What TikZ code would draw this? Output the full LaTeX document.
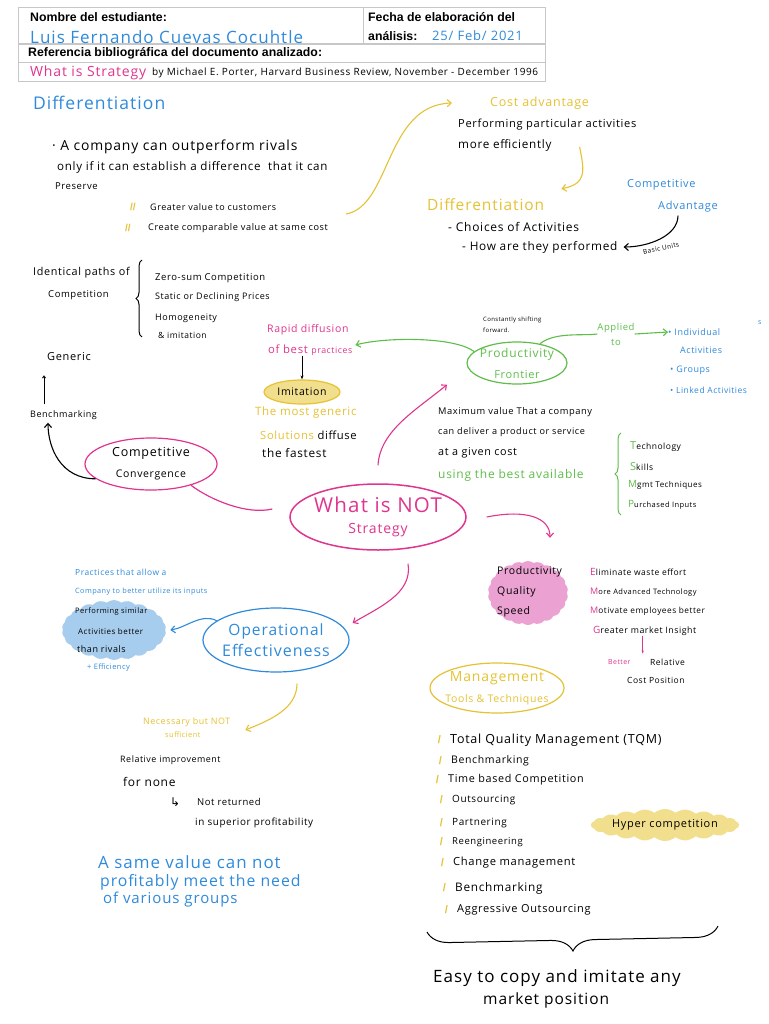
\documentclass[tikz,border=0pt]{standalone}
\usepackage{fontspec}
\setmainfont{Liberation Sans}
\newfontfamily\hand[LetterSpace=6]{Open Sans}
\newfontfamily\symb{DejaVu Sans}
\usetikzlibrary{shapes.geometric,shapes.symbols,decorations.pathreplacing,arrows.meta}
\definecolor{mpink}{HTML}{E0358E}
\definecolor{mblue}{HTML}{2F8ADB}
\definecolor{myellow}{HTML}{E5C234}
\definecolor{mgreen}{HTML}{5FBE4A}
\definecolor{lblue}{HTML}{A7CDEE}
\definecolor{lpink}{HTML}{EBA2D2}
\definecolor{lyellow}{HTML}{F2DF8E}
\newcommand\hsz[1]{\fontsize{#1}{20}\selectfont}
\tikzset{
  txt/.style={anchor=west,inner sep=0pt,font=\hand\hsz{#1}},
  hd/.style={anchor=west,inner sep=0pt,font=\bfseries\fontsize{12.3}{14}\selectfont},
  ell/.style={ellipse,draw=#1,line width=1.2pt,inner sep=0pt},
  inside/.style 2 args={label={[align=center,inner sep=0pt,text=#1,font=\hand\fontsize{10}{21}\selectfont]center:#2}},
  blob/.style={cloud,cloud puffs=22,cloud puff arc=80,cloud ignores aspect,fill=#1,draw=none,inner sep=0pt},
  ticked/.style={label={[font=\bfseries\hsz{11},text=myellow,inner sep=0pt,xshift=-9pt]left:/}},
  link/.style={line width=1.1pt,-{Straight Barb[length=4pt,width=7pt]}},
  brc/.style={decorate,decoration={brace,amplitude=#1},line width=1pt},
}
\begin{document}
\begin{tikzpicture}[x=1pt,y=-1pt]
\useasboundingbox[fill=white] (0,0) rectangle (768,1024);

% header
\draw[black!22,line width=0.8pt] (18,7) rectangle (545,43) (363,7) -- (363,43)
  (18,44) rectangle (545,62) (18,62) rectangle (545,81);
\node[hd] (nombre) at (30,17) {Nombre del estudiante:};
\node[txt=17,text=mblue] (alumno) at (30,37) {Luis Fernando Cuevas Cocuhtle};
\node[hd] (fecha) at (368,17) {Fecha de elaboración del};
\node[hd] (analisis) at (368,36) {análisis:};
\node[txt=13,text=mblue] (dia) at (432,36) {25/ Feb/ 2021};
\node[hd] (referencia) at (28,53) {Referencia bibliográfica del documento analizado:};
\node[txt=14,text=mpink] (titulo) at (30,73) {What is Strategy};
\node[txt=10] (autor) at (152,73) {by Michael E. Porter, Harvard Business Review, November - December 1996};

% differentiation block
\node[txt=17.5,text=mblue] (diffA) at (33,103) {Differentiation};
\node[txt=13.9] (comp1) at (52,147) {· A company can outperform rivals};
\node[txt=11.6] (comp2) at (57,167) {only if it can establish a difference \ that it can};
\node[txt=9.5] (comp3) at (55,186) {Preserve};
\node[txt=10,text=myellow,font=\bfseries] (sl1) at (130,207) {//};
\node[txt=9] (greater) at (150,207) {Greater value to customers};
\node[txt=10,text=myellow,font=\bfseries] (sl2) at (125,228) {//};
\node[txt=9.2] (create) at (148,228) {Create comparable value at same cost};

\node[txt=12.5,text=myellow] (cost) at (490,103) {Cost advantage};
\node[txt=11.1] (perf1) at (458,125) {Performing particular activities};
\node[txt=11.7] (perf2) at (458,145) {more efficiently};
\node[txt=15.5,text=myellow] (diffB) at (427,205) {Differentiation};
\node[txt=12] (choice) at (448,227) {- Choices of Activities};
\node[txt=11.8] (how) at (462,247) {- How are they performed};
\node[txt=11,text=mblue] (compA) at (627,185) {Competitive};
\node[txt=11,text=mblue] (adv) at (658,207) {Advantage};
\node[txt=6.5,rotate=12] (basic) at (643,252) {Basic Units};

\draw[link,myellow] ([shift={(18,-14)}]create.east) .. controls +(45,-8) and +(-67,2) .. ([xshift=-38]cost.west);
\draw[link,myellow] ([shift={(28,2)}]perf2.east) .. controls +(5,25) and +(25,-5) .. ([shift={(17,-10)}]diffB.north east);
\draw[link] ([shift={(-10,3)}]adv.south) .. controls +(0,20) and +(25,0) .. ([xshift=6]how.east);

% identical paths
\node[txt=10.8] (ident1) at (33,273) {Identical paths of};
\node[txt=9.5] (ident2) at (48,295) {Competition};
\draw[brc=6pt] (142,337) -- (142,260);
\node[txt=9.5] (zero) at (155,278) {Zero-sum Competition};
\node[txt=9] (static) at (155,297) {Static or Declining Prices};
\node[txt=9] (homog) at (155,318) {Homogeneity};
\node[txt=8.5] (imitat) at (158,335) {\& imitation};
\node[txt=11] (generic) at (47,357) {Generic};
\node[txt=9] (bench) at (30,415) {Benchmarking};
\draw[line width=1pt,-{Straight Barb[length=2pt,width=3pt]},shorten <=6pt,shorten >=14pt]
  ([xshift=-3]generic.south west |- bench.north) -- ([xshift=-3]generic.south west);

\node[ell=mpink,minimum width=132,minimum height=52,
  inside={black}{{\hsz{12.5}Competitive}\\{\hsz{10.5}Convergence}}] (conv) at (151,464) {};
\draw[link] (conv.195) .. controls +(-35,0) and +(0,25) .. ([xshift=18,yshift=-3]bench.south west);

% imitation
\node[txt=10.5,text=mpink] (rapid1) at (267,330) {Rapid diffusion};
\node[txt=11.3,text=mpink] (rapid2) at (268,350) {of best {\hsz{8.8}practices}};
\node[ell=myellow,fill=lyellow,minimum width=76,minimum height=24,inside={black}{\hsz{10.5}Imitation}] (imit) at (302,392) {};
\node[txt=11.5,text=myellow] (gen1) at (255,413) {The most generic};
\node[txt=11.2] (gen2) at (260,435) {\textcolor{myellow}{Solutions} diffuse};
\node[txt=11.8] (gen3) at (262,453) {the fastest};
\draw[line width=1pt,-{Stealth[length=4pt]}] (imit.north |- rapid2.south) -- (imit.north);

% productivity frontier
\node[ell=mgreen,minimum width=100,minimum height=42,
  inside={mgreen}{{\hsz{12}Productivity}\\{\hsz{11}Frontier}}] (pf) at (517,363) {};
\node[txt=6] (shift1) at (483,320) {Constantly shifting};
\node[txt=6] (shift2) at (483,330) {forward.};
\node[text=mgreen,anchor=center,align=center,inner sep=0pt,font=\hand\fontsize{9.5}{15}\selectfont] (applied) at (616,334) {Applied\\to};
\node[txt=9,text=mblue] (ind1) at (668,332) {• Individual};
\node[txt=9,text=mblue] (ind2) at (680,350) {Activities};
\node[txt=9,text=mblue] (groups) at (670,370) {• Groups};
\node[txt=8.5,text=mblue] (linked) at (670,390) {• Linked Activities};
\node[txt=7,text=mblue] (sTxt) at (758,323) {s};
\draw[link,mgreen] (pf.165) .. controls +(-20,-15) and +(30,-8) .. ([shift={(3,-5)}]rapid2.east);
\draw[line width=1.1pt,mgreen] (pf.40) .. controls +(15,-12) and +(-15,2) .. (applied.west);
\draw[link,mgreen] (applied.east) -- (ind1.west);

\node[txt=9.3] (max1) at (438,412) {Maximum value That a company};
\node[txt=9.1] (max2) at (438,432) {can deliver a product or service};
\node[txt=10.8] (max3) at (438,453) {at a given cost};
\node[txt=12,text=mgreen] (max4) at (438,475) {using the best available};
\draw[brc=6pt,mgreen] (621,515) -- (621,433);
\node[txt=8.5] (tech) at (630,447) {{\color{mgreen}\hsz{11}T}echnology};
\node[txt=8.5] (skills) at (630,467) {{\color{mgreen}\hsz{11}S}kills};
\node[txt=8] (mgmt) at (628,485) {{\color{mgreen}\hsz{10}M}gmt Techniques};
\node[txt=7.5] (purch) at (628,505) {{\color{mgreen}\hsz{10}P}urchased Inputs};

% centre
\node[ell=mpink,line width=1.5pt,minimum width=176,minimum height=66,
  inside={mpink}{{\hsz{20.5}What is NOT}\\{\hsz{14}Strategy}}] (not) at (378,517) {};
\draw[link,mpink] ([yshift=18]not.north) .. controls +(2,-35) and +(-30,25) .. ([xshift=-70]pf.south);
\draw[line width=1.2pt,mpink] ([xshift=-17,yshift=8]not.west) .. controls +(-25,6) and +(20,15) .. (conv.-28);

% operational effectiveness
\node[txt=8.4,text=mblue] (prac1) at (75,572) {Practices that allow a};
\node[txt=7.3,text=mblue] (prac2) at (75,592) {Company to better utilize its inputs};
\node[blob=lblue,minimum width=104,minimum height=60] (simcloud) at (114,630) {};
\node[txt=7.5] (sim1) at (75,612) {Performing similar};
\node[txt=8] (sim2) at (78,631) {Activities better};
\node[txt=9] (sim3) at (77,649) {than rivals};
\node[txt=7.5,text=mblue] (effic) at (87,668) {+ Efficiency};
\node[ell=mblue,minimum width=146,minimum height=64,
  inside={mblue}{{\hsz{15.5}Operational}\\{\hsz{16}Effectiveness}}] (oe) at (276,640) {};
\draw[link,mpink] ([yshift=-13,xshift=30]not.south) .. controls +(5,30) and +(25,-15) .. ([shift={(3,-17)}]oe.east);
\draw[link,mblue] (oe.162) .. controls +(-15,-8) and +(15,-2) .. ([xshift=5]simcloud.east);
\node[txt=8.9,text=myellow] (nec1) at (143,722) {Necessary but NOT};
\node[txt=7.5,text=myellow] (nec2) at (165,735) {sufficient};
\draw[link,myellow] ([shift={(21,11)}]oe.south) .. controls +(0,25) and +(25,-10) .. ([shift={(15,8)}]nec1.east);
\node[txt=8.9] (relimp) at (120,760) {Relative improvement};
\node[txt=12] (fornone) at (123,782) {for none};
\node[txt=12,font=\symb\fontsize{12}{14}\selectfont] (hook) at (170,802) {↳};
\node[txt=9.5] (notret) at (197,802) {Not returned};
\node[txt=9.9] (superior) at (195,823) {in superior profitability};
\node[txt=16.9,text=mblue] (same1) at (98,862) {A same value can not};
\node[txt=15.8,text=mblue] (same2) at (100,882) {profitably meet the need};
\node[txt=15,text=mblue] (same3) at (103,900) {of various groups};

% productivity quality speed
\node[blob=lpink,minimum width=80,minimum height=64] (pqs) at (528,593) {};
\node[txt=10.5,align=left] (pqstext) at (497,592) {Productivity\\Quality\\Speed};
\draw[link,mpink] ([xshift=20]not.east) .. controls +(40,-8) and +(0,-20) .. ([shift={(22,-23)}]pqs.north);
\node[txt=8.5] (elim) at (590,572) {{\color{mpink}\hsz{10}E}liminate waste effort};
\node[txt=7.5] (moreadv) at (590,592) {{\color{mpink}\hsz{9}M}ore Advanced Technology};
\node[txt=8.3] (motiv) at (590,611) {{\color{mpink}\hsz{9}M}otivate employees better};
\node[txt=8.8] (insight) at (593,631) {{\color{mpink}\hsz{10}G}reater market Insight};
\node[txt=7,text=mpink] (better) at (608,662) {Better};
\node[txt=8.5] (relative) at (650,662) {Relative};
\node[txt=8.5] (costpos) at (627,680) {Cost Position};
\draw[mpink,line width=1pt,-{Stealth[length=3pt]}] ([xshift=-2]insight.south) -- ([xshift=-2,yshift=5]insight.south |- relative.north);

% management tools
\node[ell=myellow,minimum width=134,minimum height=50,
  inside={myellow}{{\hsz{14}Management}\\{\hsz{10.5}Tools \& Techniques}}] (tools) at (497,688) {};
\node[txt=12.5,ticked] (t1) at (450,740) {Total Quality Management (TQM)};
\node[txt=10.5,ticked] (t2) at (451,761) {Benchmarking};
\node[txt=10.8,ticked] (t3) at (448,780) {Time based Competition};
\node[txt=10,ticked] (t4) at (452,800) {Outsourcing};
\node[txt=10,ticked] (t5) at (452,823) {Partnering};
\node[txt=9.5,ticked] (t6) at (452,842) {Reengineering};
\node[txt=11.2,ticked] (t7) at (453,863) {Change management};
\node[txt=11.8,ticked] (t8) at (455,888) {Benchmarking};
\node[txt=11,ticked] (t9) at (457,910) {Aggressive Outsourcing};
\node[blob=lyellow,minimum width=148,minimum height=32,
  inside={black}{\hsz{11}Hyper competition}] (hyper) at (665,825) {};
\draw[brc=22pt] (718,926) -- (427,932);
\node[txt=17] (easy1) at (433,978) {Easy to copy and imitate any};
\node[txt=15.5] (easy2) at (483,1000) {market position};
\end{tikzpicture}
\end{document}
